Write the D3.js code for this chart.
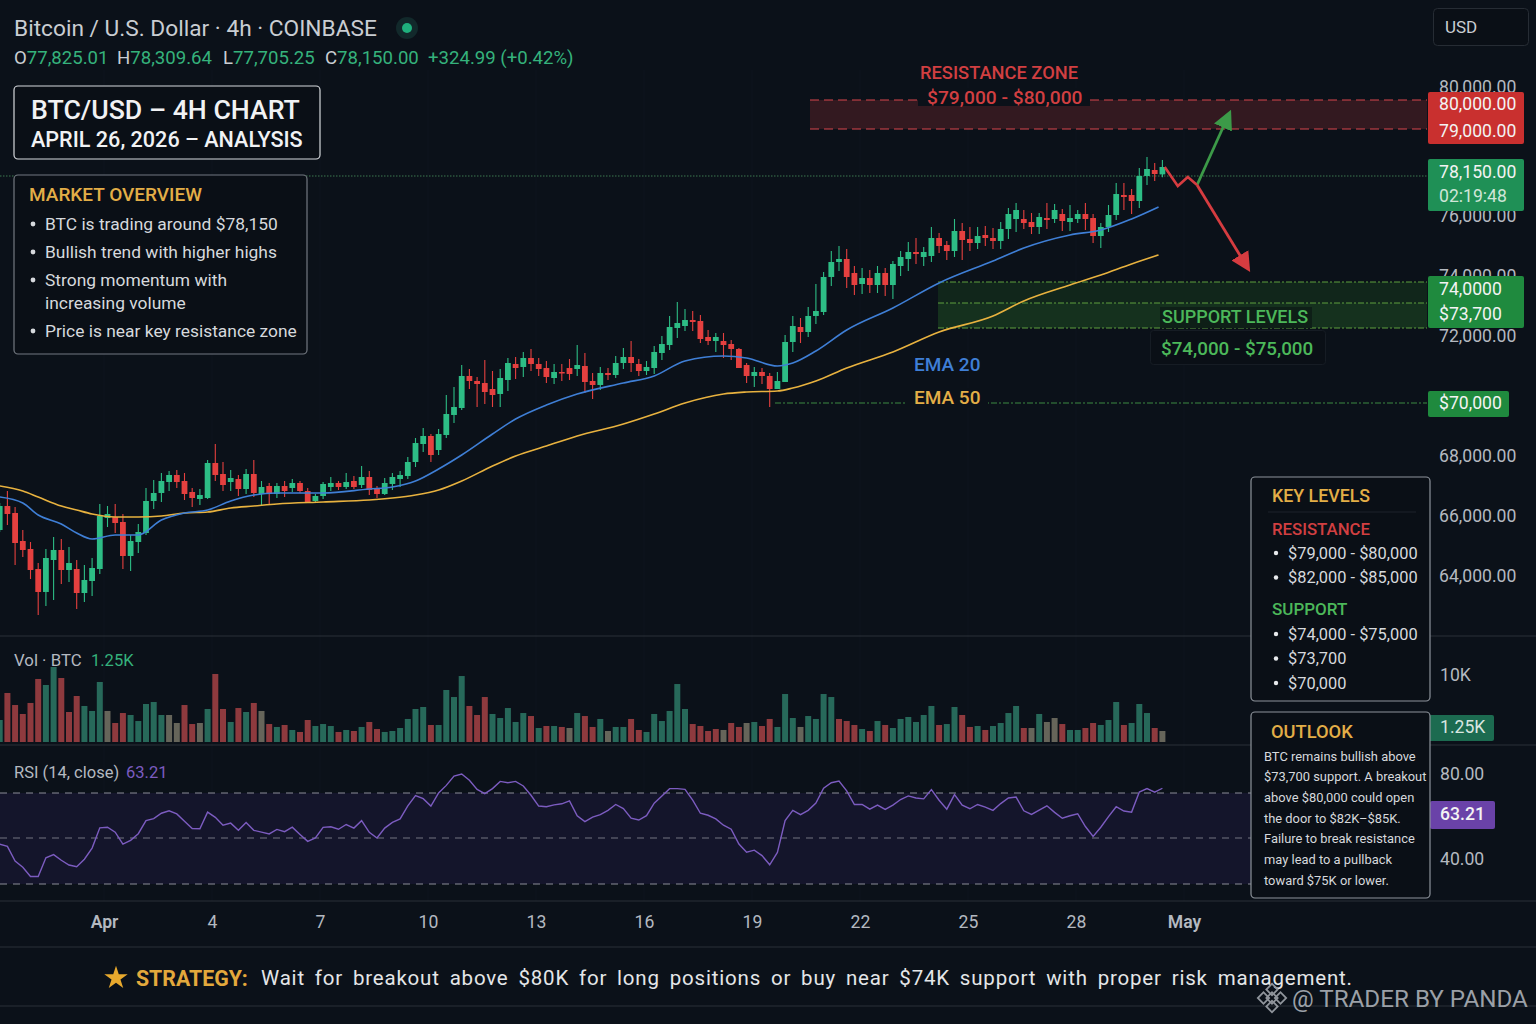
<!DOCTYPE html>
<html lang="en">
<head>
<meta charset="UTF-8">
<title>BTC/USD 4H Chart</title>
<style>
  html, body { margin: 0; padding: 0; background: #0b1119; }
  svg { display: block; font-family: Roboto, sans-serif; }
</style>
</head>
<body>
<svg width="1536" height="1024"></svg>
<script src="https://d3js.org/d3.v7.min.js"></script>
<script>
// candles, oldest first
const opens = [65533,66333,66100,65167,64900,64233,63467,64533,64867,64200,
  64233,63433,63833,64233,65933,65967,65800,64667,65133,65433,
  66500,66767,67133,67367,67167,66800,66567,66600,67767,67400,
  67133,67233,66900,67400,66733,67000,66733,67000,66933,67100,
  66833,66500,66667,66967,67100,66967,67167,67033,67300,66933,
  66733,67067,67233,67333,67800,68400,68667,68200,68700,69367,
  69600,70667,70500,70433,70233,70067,70533,71067,70967,71267,
  71067,70933,70600,70800,70933,70900,71000,70500,70367,70767,
  70700,71100,71300,71067,70833,70933,71433,71700,72267,72333,
  72533,72500,71967,71833,71833,71733,71567,71033,70667,70800,
  70667,70233,70467,71800,72300,72133,72667,72800,73967,74467,
  74567,74100,73733,73933,73700,74100,73700,74333,74567,74800,
  74633,74667,75267,75033,74833,75500,75233,75100,75367,75267,
  75167,75567,75900,75900,75800,75633,75933,75900,76088,75800,
  75900,76088,75933,75333,75633,76044,76921,76921,76658,77755,78018,77825.01];
const highs = [66433,66833,66300,65533,65133,64433,64900,65300,65233,64967,
  64533,64367,64600,66400,66333,66400,66067,65367,65733,66933,
  67200,67433,67500,67533,67433,66933,66900,67867,68400,67800,
  67533,67367,67567,67867,67167,67100,67100,67167,67233,67167,
  66933,66733,67133,67300,67167,67433,67333,67667,67500,67000,
  67267,67433,67500,67967,68600,68933,68733,68900,70033,70300,
  71033,70900,70633,71200,70833,70900,71267,71300,71467,71567,
  71267,71167,71067,71067,71233,71700,71433,70767,70967,70933,
  71333,71600,71833,71233,71167,71667,72000,72667,73133,72900,
  72833,72700,72200,72100,72100,71867,71600,71100,70967,70933,
  70767,70800,72033,72667,72600,72967,73733,74133,74833,75000,
  74900,74333,74267,74200,74333,74267,74500,74833,75133,75267,
  74967,75633,75433,75167,75900,75767,75633,75633,75667,75600,
  75800,76351,76570,76263,76132,76132,76570,76527,76307,76483,
  76263,76570,76088,75767,76483,77448,77448,77185,78106,78381,78242,78309.64];
const lows = [65467,65700,64367,64633,63900,62700,63000,63200,63733,63800,
  62900,63133,63333,64067,65633,65433,64233,64167,64767,65367,
  66233,66467,66833,66933,66533,66300,66367,66567,67167,66833,
  66833,66667,66733,66633,66333,66400,66600,66633,66800,66767,
  66433,66467,66567,66833,66867,66900,66900,66933,66700,66600,
  66700,66867,66967,67233,67633,68133,67800,68033,68600,69100,
  69533,70233,69633,69733,69633,69633,70167,70567,70633,70833,
  70667,70433,70400,70500,70533,70667,70100,69900,70200,70533,
  70600,70900,70800,70667,70700,70733,71200,71533,71933,72167,
  72167,71767,71700,71467,71267,71200,70933,70433,70300,70400,
  69633,70233,70467,71467,71767,71967,72400,72700,73667,74167,
  73600,73367,73400,73433,73433,73333,73233,74000,74167,74400,
  74333,74467,74767,74533,74633,74533,74833,74900,75000,74900,
  74900,75233,75467,75567,75400,75400,75567,75767,75500,75500,
  75767,75533,75100,74933,75467,75867,76263,76088,76351,77360,77536,77705.25];
const closes = [66333,66067,65100,64867,64200,63467,64600,64867,64200,64433,
  63433,63867,64267,66000,66067,65767,64667,65167,65467,66500,
  66767,67167,67367,67133,66733,66600,66700,67767,67367,67033,
  67267,66900,67400,66767,66967,66733,67000,66833,67100,66833,
  66467,66667,67067,67100,66967,67133,66967,67300,66867,66733,
  67100,67300,67367,67800,68433,68667,68033,68733,69400,69633,
  70667,70500,70400,70133,70033,70600,71100,70933,71267,71067,
  70900,70633,70800,70767,70733,71033,70467,70367,70767,70700,
  71100,71300,71100,70833,70967,71467,71733,72300,72433,72533,
  72467,71900,71833,71967,71700,71567,70933,70667,70800,70667,
  70233,70500,71800,72333,72133,72667,72833,73967,74467,74567,
  73967,73700,73933,73700,74100,73700,74400,74633,74800,74733,
  74800,75267,75000,74833,75500,75200,75100,75333,75267,75167,
  75567,76088,76263,75767,75633,75967,75867,76263,75833,75933,
  76088,75900,75333,75633,76044,76965,76834,76658,77755,78062,77843,78150];

// moving averages, read at these candle numbers
const emaIndex = [0,3,5,8,10,12,15,18,21,24,27,30,33,36,42,48,51,54,57,60,64,67,71,75,81,85,89,94,97,101,103,106,110,116,122,129,133,139,143,147,150.5];
const ema20 = [66633,66433,66033,65733,65433,65233,65367,65367,65867,66100,66200,66500,66700,66767,66767,66900,66967,67167,67567,68033,68733,69233,69700,70067,70433,70667,71167,71333,71267,71000,71100,71500,72200,72933,73767,74500,74933,75367,75533,75900,76395];
const ema50 = [67000,66833,66633,66333,66200,66067,65967,65967,66000,66100,66133,66267,66333,66400,66467,66533,66600,66700,66867,67167,67667,68000,68333,68667,69067,69400,69767,70067,70133,70167,70267,70500,70933,71467,72133,72667,73167,73700,74033,74400,74700];

const volumes = [2970,7190,5310,3910,5630,9380,8440,11250,9530,4220,
  6720,5160,4380,8910,4380,2500,4060,3750,2810,5470,
  5780,3750,3750,2500,5310,2340,2500,4690,10160,4690,
  2660,4840,4220,5630,4380,2340,1880,2190,1410,1140,
  2970,2030,2340,2030,1140,1410,1250,1880,2660,1560,
  1140,1250,1720,3130,4690,5000,2190,2190,7660,6560,
  9840,5160,3750,6560,3910,3280,4840,2660,4060,3590,
  1720,2030,2030,1880,1720,4060,3590,1880,3130,1250,
  1880,1880,3130,1410,1140,3910,2810,4380,8590,4690,
  2340,2030,1250,1560,1410,2500,1880,2500,2660,2030,
  3130,1880,7030,3280,1880,3590,3130,7030,6560,3130,
  2810,2190,1560,1250,2810,2190,1720,3130,3440,2660,
  3750,5160,2190,2340,5000,3750,1880,2030,1410,2030,
  2500,4060,5160,1720,1720,3910,2660,3280,2340,1410,
  1410,1720,2500,2190,2970,5780,2190,2500,5470,4060,1720,1250];
const volTones = ("g r r r r r g g r r r g g g n r r g g g g g n n r r n g r r g r g r n r g r g r " +
  "r g g g r g r g r r g g g g g g r g g g g r r r g g g g g r g r g r n g r r g " +
  "n g g r r g g g g g g r r r r n r r n g r r g g g n g g g g r r r g r g r g g g g g g r g g r r g r g g g g r n g n n r g g r r g g g r g g g r n").split(" ");

const rsi = [47.1,46.0,39.2,36.7,33.0,33.0,40.6,42.1,39.5,37.6,
  36.9,39.9,45.2,54.5,54.8,52.6,47.1,48.9,51.9,57.7,
  58.6,61.0,62.1,60.7,57.4,54.2,54.1,61.5,59.2,55.7,
  56.6,53.4,56.9,53.4,52.6,51.8,53.8,52.8,54.8,51.6,
  48.4,50.0,54.7,55.0,53.9,56.0,54.4,57.7,52.5,50.0,
  54.4,56.9,58.5,64.3,68.8,67.5,64.2,70.0,74.0,78.9,
  80.0,76.7,71.9,69.7,72.3,76.1,75.4,76.1,73.7,69.0,
  64.2,63.9,64.7,65.2,66.5,59.9,57.3,59.3,60.4,62.3,
  64.9,63.1,58.8,58.0,59.9,65.5,68.7,72.3,72.3,71.9,
  66.8,61.0,60.1,58.5,55.7,53.9,47.1,43.2,44.2,41.6,
  37.7,43.1,57.7,62.3,60.4,62.3,65.5,72.5,75.4,76.3,
  71.1,64.9,64.9,62.8,64.6,62.7,64.6,67.1,68.7,67.8,
  67.4,71.8,66.8,62.8,69.3,64.6,63.0,64.9,63.7,62.3,
  65.3,67.8,68.2,62.1,60.5,62.4,64.3,61.4,58.8,59.9,
  60.8,55.1,50.7,54.8,59.5,63.9,62.0,61.5,70.5,72.3,70.4,72.5];

const priceTicks = [80000,76000,74000,72000,68000,66000,64000];
const rsiTicks = [80,40];
const rsiGuides = [70,50,30];
const volTicks = [10000];
const dateTicks = [new Date(2026,3,1),new Date(2026,3,4),new Date(2026,3,7),new Date(2026,3,10),new Date(2026,3,13),new Date(2026,3,16),new Date(2026,3,19),new Date(2026,3,22),new Date(2026,3,25),new Date(2026,3,28),new Date(2026,4,1)];

// trade scenario after the last candle: [candle number, price]
const pullback = [[151.3,78313],[153,77760],[154.3,78110],[155.5,77798]];
const bullTarget = [[155.5,77798],[159.6,79483]];
const bearTarget = [[155.5,77798],[162,74588]];

const overview = [["BTC is trading around $78,150"],["Bullish trend with higher highs"],["Strong momentum with","increasing volume"],["Price is near key resistance zone"]];
const resistanceList = ["$79,000 - $80,000","$82,000 - $85,000"];
const supportList = ["$74,000 - $75,000","$73,700","$70,000"];
const outlook = ["BTC remains bullish above","$73,700 support. A breakout","above $80,000 could open","the door to $82K\u2013$85K.","Failure to break resistance","may lead to a pullback","toward $75K or lower."];

const GREEN = "#2dbd85", RED = "#e5403f", TEXT = "#b4b9c0", ORANGE = "#e3ae47", UP = "#35b27c";

const svg = d3.select("svg");
svg.append("rect").attr("width",1536).attr("height",1024).attr("fill","#0b1119");

// scales
const x = d3.scaleLinear().domain([0,151]).range([-0.3,1162.4]);
const t = d3.scaleTime().domain([new Date(2026,3,1),new Date(2026,4,1)]).range([104,1184]);
const y = d3.scaleLinear().domain([64000,76000,78150,80000]).range([576,216,167,87]);
// the level lines don't sit on the price axis in the original, they have their own spacing
const levelY = d3.scaleLinear().domain([70000,73000,73700,74000,78150,79000,80000]).range([403,328,303,282,176,129,100]);
const vy = d3.scaleLinear().domain([0,1250,10000]).range([742,731,675]);
const ry = d3.scaleLinear().domain([30,40,50,70,80]).range([884,859,838,793,774]);

function label(g, px, py, str, size, fill, weight, anchor) {
  return g.append("text").attr("x",px).attr("y",py).attr("dy",".36em")
    .attr("font-size",size).attr("fill",fill).attr("font-weight",weight||400)
    .attr("text-anchor",anchor||"start").text(str);
}

// faint grid and pane borders
const grid = svg.append("g");
grid.selectAll("line").data(dateTicks).join("line")
  .attr("x1",d=>t(d)).attr("x2",d=>t(d)).attr("y1",70).attr("y2",901)
  .attr("stroke","#0f151e");
grid.selectAll("path").data([636,745,901,947,1006]).join("path")
  .attr("d",d=>`M0,${d}H1536`).attr("stroke","#2a3038").attr("stroke-width",1);

// zones
const zones = svg.append("g");
zones.append("rect").attr("x",810).attr("width",617).attr("y",levelY(80000)).attr("height",levelY(79000)-levelY(80000)).attr("fill","#331920");
zones.append("rect").attr("x",938).attr("width",489).attr("y",levelY(74000)).attr("height",levelY(73700)-levelY(74000)).attr("fill","#11261b");
zones.append("rect").attr("x",938).attr("width",489).attr("y",levelY(73700)).attr("height",levelY(73000)-levelY(73700)).attr("fill","#15311e");
zones.selectAll(".res").data([80000,79000]).join("line").attr("class","res")
  .attr("x1",810).attr("x2",1427).attr("y1",d=>levelY(d)).attr("y2",d=>levelY(d))
  .attr("stroke","#d8474c").attr("stroke-width",1.2).attr("stroke-dasharray","9 5");
zones.selectAll(".sup").data([74000,73700,73000]).join("line").attr("class","sup")
  .attr("x1",938).attr("x2",1427).attr("y1",d=>levelY(d)).attr("y2",d=>levelY(d))
  .attr("stroke","#5f9f3f").attr("stroke-width",1).attr("stroke-dasharray","6 2 2 2");
zones.append("line").attr("x1",775).attr("x2",1427).attr("y1",levelY(70000)).attr("y2",levelY(70000))
  .attr("stroke","#3c8a42").attr("stroke-width",1).attr("stroke-dasharray","6 2 2 2");
zones.append("line").attr("x1",0).attr("x2",1427).attr("y1",levelY(78150)).attr("y2",levelY(78150))
  .attr("stroke","#3d7a50").attr("stroke-width",1).attr("stroke-dasharray","1.5 1.5");

// candles
const idx = d3.range(opens.length);
const candles = svg.append("g");
candles.selectAll("line").data(idx).join("line")
  .attr("x1",d=>x(d)).attr("x2",d=>x(d)).attr("y1",d=>y(highs[d])).attr("y2",d=>y(lows[d]))
  .attr("stroke",d=>closes[d]>=opens[d]?GREEN:RED).attr("stroke-width",1.1);
candles.selectAll("rect").data(idx).join("rect")
  .attr("x",d=>x(d)-2.9).attr("width",5.8)
  .attr("y",d=>y(Math.max(opens[d],closes[d])))
  .attr("height",d=>Math.max(1.5,Math.abs(y(opens[d])-y(closes[d]))))
  .attr("fill",d=>closes[d]>=opens[d]?GREEN:RED);

// EMAs
const emaLine = d3.line().x((d,i)=>x(emaIndex[i])).y(d=>y(d)).curve(d3.curveMonotoneX);
svg.append("path").attr("d",emaLine(ema50)).attr("fill","none").attr("stroke","#e8b23f").attr("stroke-width",1.6);
svg.append("path").attr("d",emaLine(ema20)).attr("fill","none").attr("stroke","#3f7fd6").attr("stroke-width",1.6);

// scenario arrows
const defs = svg.append("defs");
[["headUp","#3c9a48"],["headDown","#d63c40"]].forEach(([id,c])=>{
  defs.append("marker").attr("id",id).attr("viewBox","0 0 10 10").attr("refX",7).attr("refY",5)
    .attr("markerWidth",7).attr("markerHeight",7).attr("orient","auto")
    .append("path").attr("d","M0,0L10,5L0,10z").attr("fill",c);
});
const pathLine = d3.line().x(d=>x(d[0])).y(d=>levelY(d[1]));
svg.append("path").attr("d",pathLine(bullTarget)).attr("fill","none").attr("stroke","#3c9a48").attr("stroke-width",2.8).attr("marker-end","url(#headUp)");
svg.append("path").attr("d",pathLine(bearTarget)).attr("fill","none").attr("stroke","#d63c40").attr("stroke-width",2.8).attr("marker-end","url(#headDown)");
svg.append("path").attr("d",pathLine(pullback)).attr("fill","none").attr("stroke","#d63c40").attr("stroke-width",2.6);

// volume
const volColor = {g:"#27695a",r:"#8e3a3e",n:"#66655a"};
svg.append("g").selectAll("rect").data(volumes).join("rect")
  .attr("x",(d,i)=>x(i)-3).attr("width",6)
  .attr("y",d=>vy(d)).attr("height",d=>vy(0)-vy(d))
  .attr("fill",(d,i)=>volColor[volTones[i]]);

// rsi
svg.append("rect").attr("x",0).attr("width",1251).attr("y",ry(70)).attr("height",ry(30)-ry(70)).attr("fill","#14152b");
svg.append("g").selectAll("line").data(rsiGuides).join("line")
  .attr("x1",0).attr("x2",1251).attr("y1",d=>ry(d)).attr("y2",d=>ry(d))
  .attr("stroke","#8b8d98").attr("stroke-width",d=>d===50?0.8:1).attr("stroke-dasharray","7 6");
svg.append("path").attr("d",d3.line().x((d,i)=>x(i)).y(d=>ry(d))(rsi))
  .attr("fill","none").attr("stroke","#7c5cc0").attr("stroke-width",1.4);

// axes
function styleAxis(g) {
  g.select(".domain").remove();
  g.selectAll("line").remove();
  g.selectAll("text").attr("fill",TEXT).attr("font-size",17.6).attr("font-family","Roboto, sans-serif");
}
svg.append("g").attr("transform","translate(1439,0)")
  .call(d3.axisRight(y).tickValues(priceTicks).tickFormat(d3.format(",.2f")).tickSize(0).tickPadding(0)).call(styleAxis);
svg.append("g").attr("transform","translate(1440,0)")
  .call(d3.axisRight(vy).tickValues(volTicks).tickFormat(d=>d/1000+"K").tickSize(0).tickPadding(0)).call(styleAxis);
svg.append("g").attr("transform","translate(1440,0)")
  .call(d3.axisRight(ry).tickValues(rsiTicks).tickFormat(d3.format(".2f")).tickSize(0).tickPadding(0)).call(styleAxis);
const xAxis = svg.append("g").attr("transform","translate(0,915)")
  .call(d3.axisBottom(t).tickValues(dateTicks).tickFormat(d=>d.getDate()===1?d3.timeFormat("%b")(d):d.getDate()).tickSize(0).tickPadding(0)).call(styleAxis);
xAxis.selectAll("text").attr("font-weight",d=>d.getDate()===1?600:400);

// header
const head = svg.append("g");
label(head,14,28,"Bitcoin / U.S. Dollar \u00b7 4h \u00b7 COINBASE",22.7,"#c9cdd2");
head.append("circle").attr("cx",407).attr("cy",28).attr("r",11).attr("fill","#12292b");
head.append("circle").attr("cx",407).attr("cy",28).attr("r",5).attr("fill","#1fb07d");
[["O",14,"77,825.01"],["H",117,"78,309.64"],["L",223,"77,705.25"],["C",325,"78,150.00"]].forEach(([k,px,v])=>{
  const tx = label(head,px,57,"",18.6,UP);
  tx.append("tspan").attr("fill","#c9cdd2").text(k);
  tx.append("tspan").text(v);
});
label(head,428,57,"+324.99 (+0.42%)",18.6,UP);

// usd box
svg.append("rect").attr("x",1433.5).attr("y",8.5).attr("width",95).attr("height",37).attr("rx",4).attr("fill","#0a0f16").attr("stroke","#262c34");
label(svg,1445,27,"USD",17,"#c9cdd2");

// title box
const box = (px,py,w,h,stroke)=>svg.append("rect").attr("x",px).attr("y",py).attr("width",w).attr("height",h).attr("rx",4).attr("fill","#0a0f16").attr("stroke",stroke).attr("stroke-width",1.2);
box(14,86,306,73,"#d6d9dd");
label(svg,31,109,"BTC/USD \u2013 4H CHART",26.7,"#f1f2f4",500);
label(svg,31,139,"APRIL 26, 2026 \u2013 ANALYSIS",21.6,"#f1f2f4",500);

// market overview
box(14,175,293,179,"#737981");
label(svg,29,194,"MARKET OVERVIEW",19,ORANGE,500);
let rowY = 224;
overview.forEach((lines,k)=>{
  svg.append("circle").attr("cx",33).attr("cy",rowY).attr("r",2.4).attr("fill","#d6d9dd");
  lines.forEach((s,j)=>label(svg,45,rowY+j*23,s,17.4,"#d6d9dd"));
  rowY += lines.length===2 ? 51 : 28;
});

// zone text
label(svg,920,72,"RESISTANCE ZONE",18.3,"#d13f41",500);
svg.append("rect").attr("x",918).attr("y",88).attr("width",172).attr("height",18).attr("fill","#0b1119");
label(svg,927,97,"$79,000 - $80,000",19.2,"#d13f41",500);
svg.append("rect").attr("x",1160).attr("y",307).attr("width",152).attr("height",21).attr("fill","#0e1f17");
label(svg,1162,317,"SUPPORT LEVELS",18,"#4cb85a",500);
svg.append("rect").attr("x",1150.5).attr("y",330.5).attr("width",175).attr("height",34).attr("rx",3).attr("fill","#0a0f16").attr("stroke","#161c24");
label(svg,1161,348,"$74,000 - $75,000",18.8,"#4cb85a",500);
svg.append("rect").attr("x",906).attr("y",388).attr("width",82).attr("height",20).attr("fill","#0b1119");
label(svg,914,364,"EMA 20",19,"#3f7fd6",500);
label(svg,914,397,"EMA 50",19,ORANGE,500);

// price tags
const tag = (px,py,w,h,c)=>svg.append("rect").attr("x",px).attr("y",py).attr("width",w).attr("height",h).attr("rx",2).attr("fill",c);
tag(1428,92,96,52,"#c9302f");
label(svg,1439,104,"80,000.00",17.6,"#f3f3f3");
label(svg,1439,131,"79,000.00",17.6,"#f3f3f3");
tag(1428,159,96,52,"#1f9056");
label(svg,1439,172,"78,150.00",17.6,"#f3f3f3");
label(svg,1439,196,"02:19:48",17.6,"#cfe6d8");
tag(1428,276,96,52,"#1f8a3e");
label(svg,1439,289,"74,0000",17.6,"#f3f3f3");
label(svg,1439,314,"$73,700",17.6,"#f3f3f3");
tag(1428,391,81,26,"#1f8a3e");
label(svg,1439,403,"$70,000",17.6,"#f3f3f3");
tag(1428,715,66,26,"#1c6b50");
label(svg,1440,727,"1.25K",17.6,"#d9e6e0");
tag(1430,801,65,28,"#6a42a8");
label(svg,1440,814,"63.21",17.6,"#f3f3f3",500);

// pane titles
label(svg,14,660,"Vol \u00b7 BTC",16.8,TEXT);
label(svg,91,660,"1.25K",16.5,UP);
label(svg,14,772,"RSI (14, close)",16.5,TEXT);
label(svg,126,772,"63.21",16.5,"#7c5cc0");

// key levels panel
box(1251,477,179,224,"#8d939b");
label(svg,1272,496,"KEY LEVELS",17.8,ORANGE,500);
svg.append("line").attr("x1",1268).attr("x2",1416).attr("y1",512).attr("y2",512).attr("stroke","#1d232b");
label(svg,1272,529,"RESISTANCE",16.8,"#d13f41",500);
resistanceList.forEach((s,k)=>{
  const py = 553+k*24.5;
  svg.append("circle").attr("cx",1276).attr("cy",py).attr("r",2.2).attr("fill","#e8eaed");
  label(svg,1288,py,s,16.4,"#d6d9dd");
});
label(svg,1272,609,"SUPPORT",17,"#4cb85a",500);
supportList.forEach((s,k)=>{
  const py = 634+k*24.5;
  svg.append("circle").attr("cx",1276).attr("cy",py).attr("r",2.2).attr("fill","#e8eaed");
  label(svg,1288,py,s,16.4,"#d6d9dd");
});

// outlook panel
box(1251,712,179,186,"#8d939b");
label(svg,1271,731,"OUTLOOK",18.3,ORANGE,500);
outlook.forEach((s,k)=>label(svg,1264,756+k*20.7,s,12.9,"#d6d9dd"));

// strategy strip
svg.append("path").attr("transform","translate(116,978)")
  .attr("d",d3.symbol(d3.symbolStar,170)()).attr("fill","#e8a92d");
label(svg,136,978,"STRATEGY:",21.3,"#e3a93c",700);
label(svg,261,978,"Wait for breakout above $80K for long positions or buy near $74K support with proper risk management.",20.5,"#e4e6e8")
  .attr("word-spacing",4).attr("textLength",1091);

// watermark
const mark = svg.append("g").attr("transform","translate(1272,998)").attr("fill","none").attr("stroke","#8f949b").attr("stroke-width",1.8);
[[0,-8.5,4],[-8.5,0,4],[8.5,0,4],[0,8.5,4],[0,0,4]].forEach(([dx,dy,s])=>{
  mark.append("rect").attr("x",dx-s).attr("y",dy-s).attr("width",s*2).attr("height",s*2).attr("transform",`rotate(45 ${dx} ${dy})`);
});
label(svg,1292,998,"@ TRADER BY PANDA",24.2,"#9ba0a7",400);
</script>
</body>
</html>
